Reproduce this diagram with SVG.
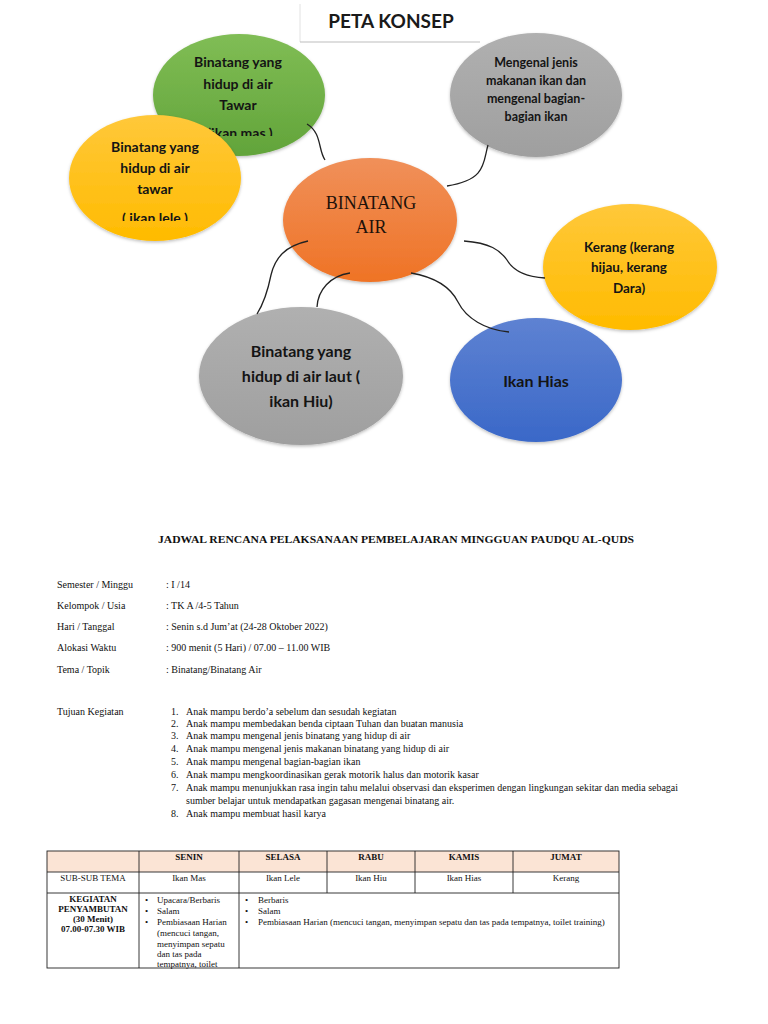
<svg xmlns="http://www.w3.org/2000/svg" width="768" height="1024" viewBox="0 0 768 1024">
<style>
.lbl{font-family:Lato,"Liberation Sans",sans-serif;font-weight:bold;fill:#141414;text-anchor:middle}
.doc{font-family:"Liberation Serif",serif;font-size:10px;fill:#111}
.tb{font-family:"Liberation Serif",serif;font-size:9px;fill:#111}
.tbb{font-family:"Liberation Serif",serif;font-size:9px;font-weight:bold;fill:#111;text-anchor:middle}
.tc{text-anchor:middle}
.conn{fill:none;stroke:#222;stroke-width:1.3}
.grid{stroke:#222;stroke-width:0.9;fill:none}
</style>
<defs>
<linearGradient id="gGreen" x1="0" y1="0" x2="0" y2="1"><stop offset="0" stop-color="#80bd55"/><stop offset="1" stop-color="#62a43a"/></linearGradient>
<linearGradient id="gYellow" x1="0" y1="0" x2="0" y2="1"><stop offset="0" stop-color="#ffc83a"/><stop offset="1" stop-color="#ffbb00"/></linearGradient>
<linearGradient id="gGray" x1="0" y1="0" x2="0" y2="1"><stop offset="0" stop-color="#b0b0b0"/><stop offset="1" stop-color="#9f9f9f"/></linearGradient>
<linearGradient id="gOrange" x1="0" y1="0" x2="0" y2="1"><stop offset="0" stop-color="#f0905a"/><stop offset="1" stop-color="#ef7325"/></linearGradient>
<linearGradient id="gBlue" x1="0" y1="0" x2="0" y2="1"><stop offset="0" stop-color="#5e82d2"/><stop offset="1" stop-color="#3a68c8"/></linearGradient>
<filter id="sh" x="-10%" y="-10%" width="120%" height="125%"><feDropShadow dx="0" dy="1.5" stdDeviation="1.5" flood-color="#000" flood-opacity="0.25"/></filter>
<clipPath id="clipMas"><rect x="150" y="30" width="180" height="106"/></clipPath>
<clipPath id="clipLele"><rect x="60" y="110" width="190" height="111"/></clipPath>
</defs>
<rect width="768" height="1024" fill="#fff"/>

<g id="title">
<line x1="300" y1="4" x2="300" y2="42" stroke="#e2e2e2" stroke-width="1"/>
<line x1="300" y1="42" x2="480" y2="42" stroke="#bdbdbd" stroke-width="1"/>
<text x="391" y="28" font-family="Lato,'Liberation Sans',sans-serif" font-weight="bold" font-size="19" fill="#1a1a1a" text-anchor="middle">PETA KONSEP</text>
</g>

<g id="node-green">
<ellipse cx="239" cy="95" rx="86" ry="61" fill="url(#gGreen)" filter="url(#sh)"/>
<text class="lbl" font-size="14" x="238" y="67">Binatang yang</text>
<text class="lbl" font-size="14" x="238" y="89">hidup di air</text>
<text class="lbl" font-size="14" x="238" y="110">Tawar</text>
<text class="lbl" font-size="14" x="240" y="138" clip-path="url(#clipMas)">(ikan mas.)</text>
</g>

<g id="node-yellow-left">
<ellipse cx="155" cy="178" rx="86" ry="63" fill="url(#gYellow)" filter="url(#sh)"/>
<text class="lbl" font-size="14" x="155" y="152">Binatang yang</text>
<text class="lbl" font-size="14" x="155" y="173">hidup di air</text>
<text class="lbl" font-size="14" x="155" y="194">tawar</text>
<text class="lbl" font-size="14" x="155" y="223" clip-path="url(#clipLele)">( ikan lele )</text>
</g>

<g id="node-gray-top">
<ellipse cx="536" cy="95" rx="86" ry="62" fill="url(#gGray)" filter="url(#sh)"/>
<text class="lbl" font-size="12.5" x="536" y="67">Mengenal jenis</text>
<text class="lbl" font-size="12.5" x="536" y="85">makanan ikan dan</text>
<text class="lbl" font-size="12.5" x="536" y="103">mengenal bagian-</text>
<text class="lbl" font-size="12.5" x="536" y="121">bagian ikan</text>
</g>

<g id="node-center">
<ellipse cx="370" cy="220" rx="87" ry="62" fill="url(#gOrange)" filter="url(#sh)"/>
<text x="371" y="209" font-family="'Liberation Serif',serif" font-size="18" fill="#1e120a" text-anchor="middle">BINATANG</text>
<text x="371" y="233" font-family="'Liberation Serif',serif" font-size="18" fill="#1e120a" text-anchor="middle">AIR</text>
</g>

<g id="node-kerang">
<ellipse cx="630" cy="267" rx="87" ry="63" fill="url(#gYellow)" filter="url(#sh)"/>
<text class="lbl" font-size="13.5" x="629" y="252">Kerang (kerang</text>
<text class="lbl" font-size="13.5" x="629" y="272">hijau, kerang</text>
<text class="lbl" font-size="13.5" x="629" y="293">Dara)</text>
</g>

<g id="node-ikan-hias">
<ellipse cx="536" cy="380" rx="86" ry="62" fill="url(#gBlue)" filter="url(#sh)"/>
<text class="lbl" font-size="16" x="536" y="387">Ikan Hias</text>
</g>

<g id="node-gray-bottom">
<ellipse cx="301" cy="376" rx="102" ry="69" fill="url(#gGray)" filter="url(#sh)"/>
<text class="lbl" font-size="16" x="301" y="357">Binatang yang</text>
<text class="lbl" font-size="16" x="301" y="382">hidup di air laut (</text>
<text class="lbl" font-size="16" x="301" y="407">ikan Hiu)</text>
</g>

<g id="connectors">
<path class="conn" d="M307,124 C322,133 318,150 325,160"/>
<path class="conn" d="M488,145 C483,162 487,180 447,186"/>
<path class="conn" d="M464,241 C490,243 500,250 507,260 C514,272 528,277 545,278"/>
<path class="conn" d="M411,273 C440,278 452,290 458,302 C466,318 485,330 509,332"/>
<path class="conn" d="M308,241 C285,246 275,258 271,275 C267,295 262,306 257,314"/>
<path class="conn" d="M350,273 C330,276 318,290 317,307"/>
</g>

<g id="schedule-header">
<text x="396" y="543" font-family="'Liberation Serif',serif" font-size="11" font-weight="bold" fill="#111" text-anchor="middle" textLength="476" lengthAdjust="spacingAndGlyphs">JADWAL RENCANA PELAKSANAAN PEMBELAJARAN MINGGUAN PAUDQU AL-QUDS</text>
<text class="doc" x="57" y="588">Semester / Minggu</text>
<text class="doc" x="166" y="588">: I /14</text>
<text class="doc" x="57" y="609">Kelompok / Usia</text>
<text class="doc" x="166" y="609">: TK A /4-5  Tahun</text>
<text class="doc" x="57" y="630">Hari / Tanggal</text>
<text class="doc" x="166" y="630">: Senin s.d Jum’at (24-28 Oktober 2022)</text>
<text class="doc" x="57" y="651">Alokasi Waktu</text>
<text class="doc" x="166" y="651">: 900 menit (5 Hari) / 07.00 – 11.00 WIB</text>
<text class="doc" x="57" y="673">Tema / Topik</text>
<text class="doc" x="166" y="673">: Binatang/Binatang Air</text>
<text class="doc" x="57" y="715">Tujuan Kegiatan</text>
<text class="doc" x="171" y="715">1.</text><text class="doc" x="186" y="715">Anak mampu berdo’a sebelum dan sesudah kegiatan</text>
<text class="doc" x="171" y="727">2.</text><text class="doc" x="186" y="727">Anak mampu membedakan benda ciptaan Tuhan dan buatan manusia</text>
<text class="doc" x="171" y="739">3.</text><text class="doc" x="186" y="739">Anak mampu mengenal jenis binatang yang hidup di air</text>
<text class="doc" x="171" y="752">4.</text><text class="doc" x="186" y="752">Anak  mampu mengenal jenis makanan binatang yang hidup di air</text>
<text class="doc" x="171" y="765">5.</text><text class="doc" x="186" y="765">Anak mampu mengenal bagian-bagian ikan</text>
<text class="doc" x="171" y="778">6.</text><text class="doc" x="186" y="778">Anak mampu mengkoordinasikan gerak motorik halus dan motorik kasar</text>
<text class="doc" x="171" y="791">7.</text><text class="doc" x="186" y="791" textLength="492" lengthAdjust="spacingAndGlyphs">Anak mampu  menunjukkan rasa ingin tahu melalui observasi dan eksperimen  dengan lingkungan sekitar dan media sebagai</text>
<text class="doc" x="186" y="804">sumber belajar untuk mendapatkan gagasan mengenai binatang air.</text>
<text class="doc" x="171" y="817">8.</text><text class="doc" x="186" y="817">Anak mampu membuat hasil karya</text>
</g>

<g id="schedule-table">
<rect x="47" y="851" width="572" height="21" fill="#fbe4d5"/>
<rect class="grid" x="47" y="851" width="572" height="117"/>
<line class="grid" x1="47" y1="872" x2="619" y2="872"/>
<line class="grid" x1="47" y1="893" x2="619" y2="893"/>
<line class="grid" x1="139" y1="851" x2="139" y2="968"/>
<line class="grid" x1="239" y1="851" x2="239" y2="968"/>
<line class="grid" x1="327" y1="851" x2="327" y2="893"/>
<line class="grid" x1="415" y1="851" x2="415" y2="893"/>
<line class="grid" x1="513" y1="851" x2="513" y2="893"/>
<text class="tbb" x="189" y="860">SENIN</text>
<text class="tbb" x="283" y="860">SELASA</text>
<text class="tbb" x="371" y="860">RABU</text>
<text class="tbb" x="464" y="860">KAMIS</text>
<text class="tbb" x="566" y="860">JUMAT</text>
<text class="tb tc" x="93" y="881">SUB-SUB TEMA</text>
<text class="tb tc" x="189" y="881">Ikan Mas</text>
<text class="tb tc" x="283" y="881">Ikan Lele</text>
<text class="tb tc" x="371" y="881">Ikan Hiu</text>
<text class="tb tc" x="464" y="881">Ikan Hias</text>
<text class="tb tc" x="566" y="881">Kerang</text>
<text class="tbb" x="93" y="902">KEGIATAN</text>
<text class="tbb" x="93" y="912">PENYAMBUTAN</text>
<text class="tbb" x="93" y="922">(30 Menit)</text>
<text class="tbb" x="93" y="932">07.00-07.30 WIB</text>
<text class="tb" x="145" y="903">•</text><text class="tb" x="157" y="903">Upacara/Berbaris</text>
<text class="tb" x="145" y="914">•</text><text class="tb" x="157" y="914">Salam</text>
<text class="tb" x="145" y="925">•</text><text class="tb" x="157" y="925">Pembiasaan Harian</text>
<text class="tb" x="157" y="936">(mencuci tangan,</text>
<text class="tb" x="157" y="947">menyimpan sepatu</text>
<text class="tb" x="157" y="957">dan tas pada</text>
<text class="tb" x="157" y="967">tempatnya, toilet</text>
<text class="tb" x="245" y="903">•</text><text class="tb" x="258" y="903">Berbaris</text>
<text class="tb" x="245" y="914">•</text><text class="tb" x="258" y="914">Salam</text>
<text class="tb" x="245" y="925">•</text><text class="tb" x="258" y="925">Pembiasaan Harian (mencuci tangan, menyimpan sepatu dan tas pada tempatnya, toilet training)</text>
</g>
</svg>
